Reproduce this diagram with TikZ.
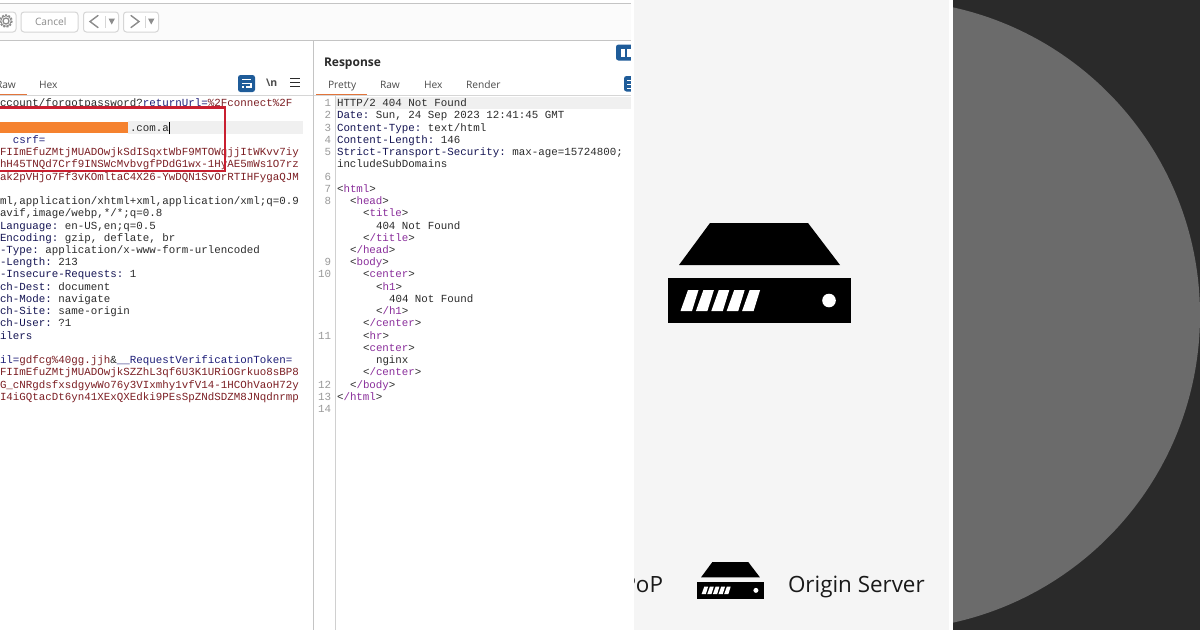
\documentclass[tikz,border=0pt]{standalone}
\usepackage{fontspec}
\setmainfont{Open Sans}
\setmonofont{Liberation Mono}
\definecolor{panelbg}{HTML}{F5F5F5}
\definecolor{darkbg}{HTML}{2A2A2A}
\definecolor{disc}{HTML}{6B6B6B}
\definecolor{barbg}{HTML}{FBFBFB}
\definecolor{rule}{HTML}{C4C4C4}
\definecolor{btn}{HTML}{D6D6D6}
\definecolor{orangebar}{HTML}{F5822F}
\definecolor{tabline}{HTML}{E2743A}
\definecolor{hl}{HTML}{F0F0F0}
\definecolor{redbox}{HTML}{C91F30}
\definecolor{burpblue}{HTML}{1F5C99}
\definecolor{cnavy}{HTML}{1E1E78}
\definecolor{cred}{HTML}{7C1F24}
\definecolor{ctext}{HTML}{2B2B2B}
\definecolor{ctag}{HTML}{8A2E9B}
\definecolor{cnum}{HTML}{9A9A9A}
\definecolor{cgrey}{HTML}{8C8C8C}
\tikzset{
  monotext/.style={anchor=base west,inner sep=0pt,outer sep=0pt,font=\ttfamily\fontsize{10.83}{12}\selectfont,text=ctext},
  numtext/.style={anchor=base east,inner sep=0pt,outer sep=0pt,font=\ttfamily\fontsize{10.83}{12}\selectfont,text=cnum},
  tabtext/.style={anchor=base west,inner sep=0pt,outer sep=0pt,font=\fontsize{10.2}{12}\selectfont,text=ctext!85},
  legendtext/.style={anchor=base west,inner sep=0pt,outer sep=0pt,font=\fontsize{22.4}{26}\selectfont,text=black!90},
  toolbtn/.style={draw=btn,line width=1pt,rounded corners=3pt,fill=white},
  toolglyph/.style={draw=cgrey,line width=1.4pt,line cap=round,line join=miter},
}
\newcommand{\lrow}[3]{\node[monotext] (#1) at (0,{106.6+12.24*#2}) {#3};}
\newcommand{\rrow}[4]{\node[monotext] (#1) at ({337+6.5*#2},{106.6+12.24*#3}) {#4};}
\newcommand{\rnum}[2]{\node[numtext] (n#1) at (331,{106.6+12.24*#2}) {#1};}
\newcommand{\tg}[1]{\textless\textcolor{ctag}{#1}\textgreater}
\newcommand{\servericon}{%
  \fill[black] (710,223) -- (808,223) -- (840,265) -- (679,265) -- cycle;
  \fill[black] (668,278) rectangle (851,323);
  \foreach \s in {0,1,2,3,4}{
    \fill[white] ({680.5+15.4*\s},311) -- ({692+15.4*\s},311) -- ({698.5+15.4*\s},290) -- ({688+15.4*\s},290) -- cycle;
  }
  \fill[white] (829,300.5) circle (6.8);
}
\begin{document}
\begin{tikzpicture}[x=1pt,y=-1pt]
\useasboundingbox (0,0) rectangle (1200,630);
% backgrounds
\fill[white] (0,0) rectangle (1200,630);
\fill[panelbg] (634,0) rectangle (949,630);
\fill[darkbg] (953,0) rectangle (1200,630);
\begin{scope}
  \clip (953,0) rectangle (1200,630);
  \fill[disc] (885,315) circle (315);
\end{scope}
% screenshot toolbar
\fill[barbg] (0,4) rectangle (631,40);
\draw[rule,line width=1pt] (0,3.5) -- (631,3.5);
\draw[rule,line width=1pt] (0,40) -- (631,40);
\draw[rule,line width=1pt] (313.5,40) -- (313.5,630);
\draw[toolbtn] (-6,12) rectangle (16,32);
\draw[cgrey,line width=1.3pt] (6,21) circle (3);
\draw[cgrey,line width=1.3pt,dash pattern=on 2pt off 1.4pt] (6,21) circle (6);
\draw[cgrey,line width=.9pt] (6,21) circle (5.2);
\draw[toolbtn] (21,12) rectangle (78,32);
\node[tabtext,text=cgrey] (cancel) at (35,25) {Cancel};
\draw[toolbtn] (83.5,12) rectangle (118.5,32);
\draw[toolbtn] (123.5,12) rectangle (158.5,32);
\draw[toolglyph] (98,15.5) -- (90,21.5) -- (98,27.5);
\draw[toolglyph] (131,15.5) -- (139,21.5) -- (131,27.5);
\draw[btn,line width=.8pt] (105.5,16) -- (105.5,28);
\draw[btn,line width=.8pt] (145.5,16) -- (145.5,28);
\fill[cgrey] (108.5,18.5) -- (115,18.5) -- (111.7,24.5) -- cycle;
\fill[cgrey] (148,18.5) -- (154.5,18.5) -- (151.2,24.5) -- cycle;
% tab rules
\draw[rule!70,line width=1pt] (0,95) -- (313,95);
\draw[rule!70,line width=1pt] (314,95) -- (631,95);
\draw[tabline,line width=1.6pt] (0,94.5) -- (27,94.5);
\draw[tabline,line width=1.6pt] (316,94.5) -- (367,94.5);
\draw[rule!80,line width=1pt] (335.5,96) -- (335.5,630);
% request tabs
\node[tabtext] (treqraw) at (-4,88) {Raw};
\node[tabtext] (treqhex) at (39,88) {Hex};
\fill[burpblue,rounded corners=2.5pt] (238,75) rectangle (255,92);
\draw[white,line width=1.1pt] (242,79.5) -- (251,79.5);
\draw[white,line width=1.1pt] (242,83.5) -- (251,83.5) -- (251,87) -- (246,87);
\draw[white,line width=1.1pt] (242,87) -- (243.5,87);
\node[tabtext,font=\bfseries\fontsize{10.5}{12}\selectfont] (nl) at (266,86) {\textbackslash n};
\draw[ctext,line width=1.2pt] (290,78.5) -- (300,78.5) (290,82.5) -- (300,82.5) (290,86.5) -- (300,86.5);
% response heading and tabs
\node[tabtext,font=\bfseries\fontsize{12}{14}\selectfont,text=ctext] (resp) at (324,66.5) {Response};
\node[tabtext] (tpretty) at (328,88) {Pretty};
\node[tabtext] (traw) at (380,88) {Raw};
\node[tabtext] (thex) at (424,88) {Hex};
\node[tabtext] (trender) at (466,88) {Render};
\fill[burpblue,rounded corners=2.5pt] (616,44.5) rectangle (640,60.5);
\fill[white] (620.5,48.5) rectangle (631,56.5);
\fill[burpblue] (625,48) rectangle (627,57);
\fill[burpblue,rounded corners=2.5pt] (624,76) rectangle (640,91.5);
\draw[white,line width=1pt] (627,80) -- (631,80) (627,84) -- (631,84) (627,88) -- (631,88);
% highlighted rows
\fill[hl] (128,121) rectangle (303,134);
\fill[hl] (336,97) rectangle (631,109);
\fill[orangebar] (0,122) rectangle (128,133);
% request text
\lrow{a0}{0}{ccount/forgotpassword?\textcolor{cnavy}{returnUrl=}\textcolor{cred}{\%2Fconnect\%2F}}
\node[monotext] (a2) at (130,{106.6+12.24*2}) {.com.a};
\draw[black,line width=1pt] (169.5,122) -- (169.5,133.5);
\lrow{a3}{3}{\hspace{13pt}\textcolor{cnavy}{csrf=}}
\lrow{a4}{4}{\textcolor{cred}{FIImEfuZMtjMUADOwjkSdISqxtWbF9MTOWqjjItWKvv7iy}}
\lrow{a5}{5}{\textcolor{cred}{hH45TNQd7Crf9INSWcMvbvgfPDdG1wx-1HyAE5mWs1O7rz}}
\lrow{a6}{6}{\textcolor{cred}{ak2pVHjo7Ff3vKOmltaC4X26-YwDQN1SvOrRTIHFygaQJM}}
\lrow{a8}{8}{ml,application/xhtml+xml,application/xml;q=0.9}
\lrow{a9}{9}{avif,image/webp,*/*;q=0.8}
\lrow{a10}{10}{\textcolor{cnavy!70!black}{Language:} en-US,en;q=0.5}
\lrow{a11}{11}{\textcolor{cnavy!70!black}{Encoding:} gzip, deflate, br}
\lrow{a12}{12}{\textcolor{cnavy!70!black}{-Type:} application/x-www-form-urlencoded}
\lrow{a13}{13}{\textcolor{cnavy!70!black}{-Length:} 213}
\lrow{a14}{14}{\textcolor{cnavy!70!black}{-Insecure-Requests:} 1}
\lrow{a15}{15}{\textcolor{cnavy!70!black}{ch-Dest:} document}
\lrow{a16}{16}{\textcolor{cnavy!70!black}{ch-Mode:} navigate}
\lrow{a17}{17}{\textcolor{cnavy!70!black}{ch-Site:} same-origin}
\lrow{a18}{18}{\textcolor{cnavy!70!black}{ch-User:} ?1}
\lrow{a19}{19}{\textcolor{cnavy!70!black}{ilers}}
\lrow{a21}{21}{\textcolor{cnavy}{il=}\textcolor{cred}{gdfcg\%40gg.jjh}\&\textcolor{cnavy}{\_\_RequestVerificationToken=}}
\lrow{a22}{22}{\textcolor{cred}{FIImEfuZMtjMUADOwjkSZZhL3qf6U3K1URiOGrkuo8sBP8}}
\lrow{a23}{23}{\textcolor{cred}{G\_cNRgdsfxsdgywWo76y3VIxmhy1vfV14-1HCOhVaoH72y}}
\lrow{a24}{24}{\textcolor{cred}{I4iGQtacDt6yn41XExQXEdki9PEsSpZNdSDZM8JNqdnrmp}}
\draw[redbox,line width=2.4pt] (-3,107.5) -- (225,107.5) -- (225,171) -- (-3,171);
% response line numbers
\rnum{1}{0}\rnum{2}{1}\rnum{3}{2}\rnum{4}{3}\rnum{5}{4}\rnum{6}{6}\rnum{7}{7}\rnum{8}{8}
\rnum{9}{13}\rnum{10}{14}\rnum{11}{19}\rnum{12}{23}\rnum{13}{24}\rnum{14}{25}
% response text
\rrow{b0}{0}{0}{HTTP/2 404 Not Found}
\rrow{b1}{0}{1}{\textcolor{cnavy!70!black}{Date:} Sun, 24 Sep 2023 12:41:45 GMT}
\rrow{b2}{0}{2}{\textcolor{cnavy!70!black}{Content-Type:} text/html}
\rrow{b3}{0}{3}{\textcolor{cnavy!70!black}{Content-Length:} 146}
\rrow{b4}{0}{4}{\textcolor{cnavy!70!black}{Strict-Transport-Security:} max-age=15724800;}
\rrow{b5}{0}{5}{includeSubDomains}
\rrow{b7}{0}{7}{\tg{html}}
\rrow{b8}{2}{8}{\tg{head}}
\rrow{b9}{4}{9}{\tg{title}}
\rrow{b10}{6}{10}{404 Not Found}
\rrow{b11}{4}{11}{\tg{/title}}
\rrow{b12}{2}{12}{\tg{/head}}
\rrow{b13}{2}{13}{\tg{body}}
\rrow{b14}{4}{14}{\tg{center}}
\rrow{b15}{6}{15}{\tg{h1}}
\rrow{b16}{8}{16}{404 Not Found}
\rrow{b17}{6}{17}{\tg{/h1}}
\rrow{b18}{4}{18}{\tg{/center}}
\rrow{b19}{4}{19}{\tg{hr}}
\rrow{b20}{4}{20}{\tg{center}}
\rrow{b21}{6}{21}{nginx}
\rrow{b22}{4}{22}{\tg{/center}}
\rrow{b23}{2}{23}{\tg{/body}}
\rrow{b24}{0}{24}{\tg{/html}}
% screenshot's right edge
\fill[white] (630.5,0) rectangle (634,630);
\fill[panelbg] (634,0) rectangle (660,110);
% server icons
\servericon
\begin{scope}[shift={(697,562)},scale=.366,shift={(-668,-223)}]
  \servericon
\end{scope}
% legend
\begin{scope}
  \clip (634,560) rectangle (700,610);
  \node[legendtext] (pop) at (622.5,592) {PoP};
\end{scope}
\node[legendtext] (origin) at (788,592) {Origin Server};
\end{tikzpicture}
\end{document}
